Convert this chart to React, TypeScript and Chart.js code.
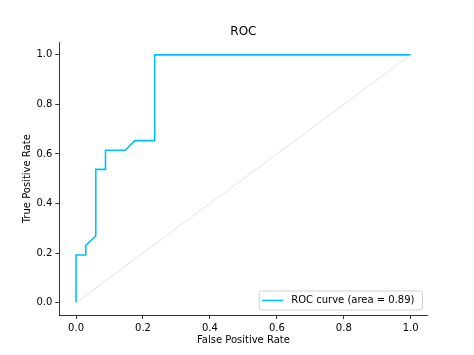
import React, { useEffect, useRef } from "react";
import { Chart, registerables } from "chart.js";

Chart.register(...registerables);

const fpr = [0, 0, 0.029, 0.029, 0.059, 0.059, 0.088, 0.088, 0.147, 0.176, 0.235, 0.235, 1.0];
const tpr = [0, 0.192, 0.192, 0.231, 0.269, 0.538, 0.538, 0.615, 0.615, 0.654, 0.654, 1.0, 1.0];
const diagX = [0, 1];
const diagY = [0, 1];
const tickValues = [0, 0.2, 0.4, 0.6, 0.8, 1.0];
const titleText = "ROC";
const xLabel = "False Positive Rate";
const yLabel = "True Positive Rate";
const legendLabel = "ROC curve (area = 0.89)";

const FONT = "'DejaVu Sans', sans-serif";
const CURVE_COLOR = "#00bfff";

const overlay = {
  id: "overlay",
  afterDraw(chart: any) {
    const ctx = chart.ctx;
    const a = chart.chartArea;
    const cx = (a.left + a.right) / 2;
    const cy = (a.top + a.bottom) / 2;
    ctx.save();
    ctx.fillStyle = "#000";
    ctx.textAlign = "center";
    ctx.textBaseline = "middle";
    ctx.font = `12px ${FONT}`;
    ctx.fillText(titleText, cx, 32);
    ctx.font = `10px ${FONT}`;
    ctx.fillText(xLabel, cx, 340.5);
    ctx.save();
    ctx.translate(27, cy);
    ctx.rotate(-Math.PI / 2);
    ctx.fillText(yLabel, 0, 0);
    ctx.restore();

    // legend
    const right = a.right - 5;
    const bottom = a.bottom - 5;
    ctx.font = `10px ${FONT}`;
    const tw = ctx.measureText(legendLabel).width;
    const w = tw + 40;
    const h = 19;
    const left = right - w;
    const top = bottom - h;
    ctx.beginPath();
    const r = 2.5;
    ctx.moveTo(left + r, top);
    ctx.lineTo(right - r, top);
    ctx.quadraticCurveTo(right, top, right, top + r);
    ctx.lineTo(right, bottom - r);
    ctx.quadraticCurveTo(right, bottom, right - r, bottom);
    ctx.lineTo(left + r, bottom);
    ctx.quadraticCurveTo(left, bottom, left, bottom - r);
    ctx.lineTo(left, top + r);
    ctx.quadraticCurveTo(left, top, left + r, top);
    ctx.closePath();
    ctx.fillStyle = "rgba(255,255,255,0.8)";
    ctx.fill();
    ctx.strokeStyle = "#d0d0d0";
    ctx.lineWidth = 1;
    ctx.stroke();
    const my = top + h / 2;
    ctx.strokeStyle = CURVE_COLOR;
    ctx.lineWidth = 1.6;
    ctx.beginPath();
    ctx.moveTo(left + 3, my);
    ctx.lineTo(left + 24, my);
    ctx.stroke();
    ctx.fillStyle = "#000";
    ctx.textAlign = "left";
    ctx.fillText(legendLabel, left + 32, my);
    ctx.restore();
  },
};

export default function App() {
  const ref = useRef<HTMLCanvasElement>(null);
  useEffect(() => {
    if (!ref.current) return;
    const curve = fpr.map((x, i) => ({ x, y: tpr[i] }));
    const diag = diagX.map((x, i) => ({ x, y: diagY[i] }));
    const scaleCommon = (isX: boolean) => ({
      type: "linear" as const,
      min: -0.05,
      max: 1.05,
      afterBuildTicks: (s: any) => {
        s.ticks = tickValues.map((v) => ({ value: v }));
      },
      afterFit: (s: any) => {
        if (isX) s.height = 40;
        else s.width = 59.3;
      },
      ticks: {
        color: "#000",
        font: { family: FONT, size: 10 },
        padding: 3,
        autoSkip: false,
        maxRotation: 0,
        callback: (v: any) => Number(v).toFixed(1),
      },
      grid: {
        display: true,
        drawOnChartArea: false,
        drawTicks: true,
        tickLength: 4,
        color: "#000",
        lineWidth: 0.8,
      },
      border: { display: true, color: "#000", width: 0.8 },
    });
    const chart = new Chart(ref.current, {
      type: "line",
      data: {
        datasets: [
          {
            data: diag,
            borderColor: "#e0e0e0",
            borderWidth: 0.9,
            pointRadius: 0,
            tension: 0,
          },
          {
            data: curve,
            borderColor: CURVE_COLOR,
            borderWidth: 1.6,
            pointRadius: 0,
            tension: 0,
          },
        ],
      },
      options: {
        responsive: false,
        animation: false,
        parsing: false as any,
        layout: { padding: { left: 0, right: 46.5, top: 42.5, bottom: 0 } },
        plugins: {
          legend: { display: false },
          title: { display: false },
          tooltip: { enabled: false },
        },
        scales: {
          x: scaleCommon(true) as any,
          y: scaleCommon(false) as any,
        },
      },
      plugins: [overlay],
    });
    return () => chart.destroy();
  }, []);
  return (
    <div style={{ position: "absolute", left: 0, top: 0, background: "#fff" }}>
      <canvas ref={ref} width={474} height={355} style={{ width: 474, height: 355, display: "block" }} />
    </div>
  );
}
